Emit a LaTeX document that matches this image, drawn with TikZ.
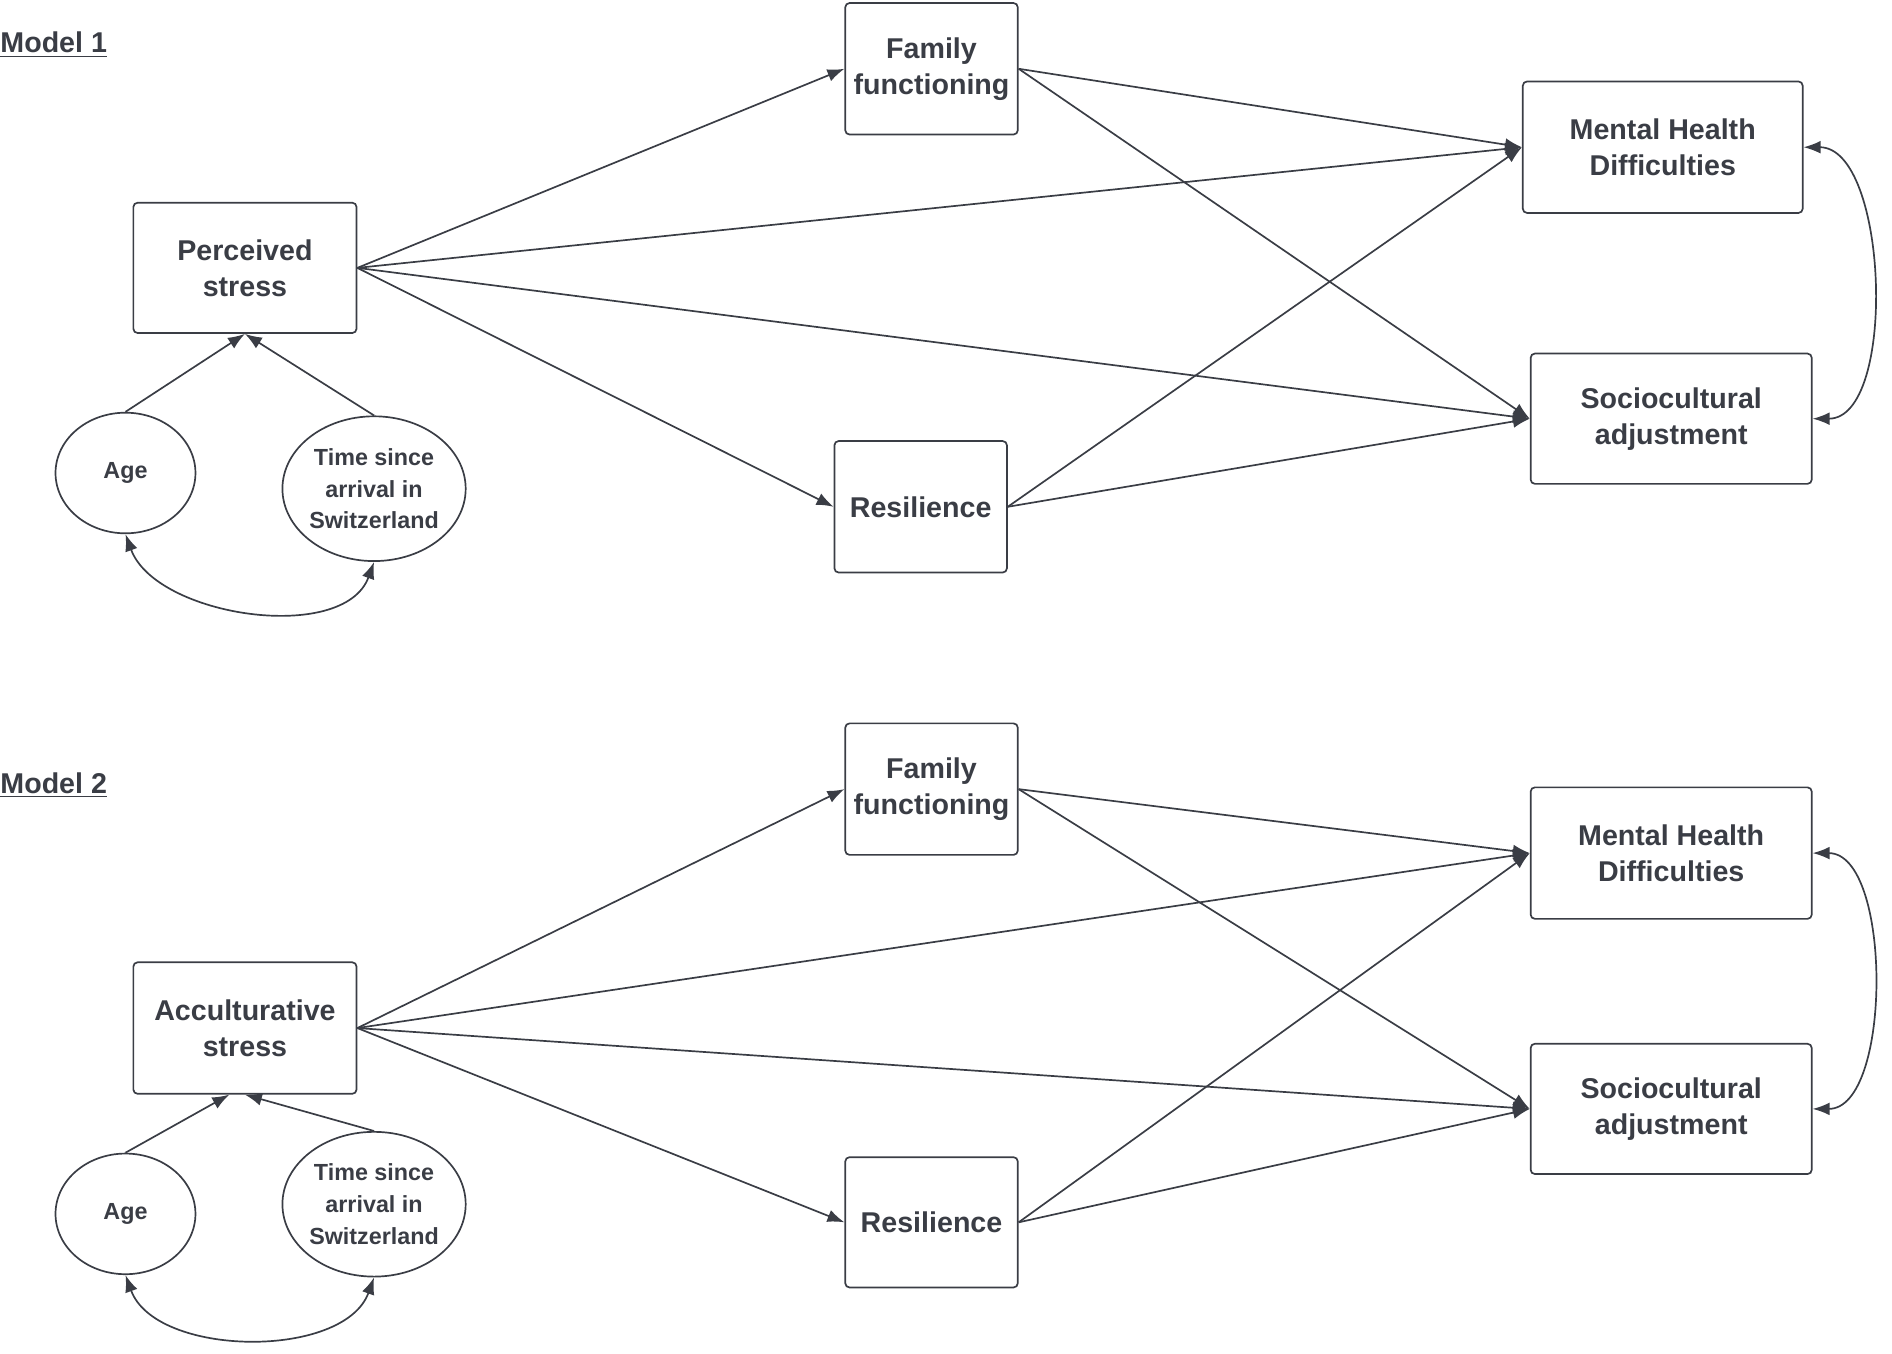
\documentclass[tikz,border=0pt]{standalone}
\usepackage{fontspec}
\setmainfont{Liberation Sans}
\usetikzlibrary{positioning,shapes.geometric,arrows.meta}
\definecolor{ink}{HTML}{3A3D45}
\tikzstyle{var} = [rectangle, rounded corners=2pt, draw=ink, thick, text=ink, align=center, font=\fontsize{13.5}{17}\selectfont\bfseries, inner sep=0pt]
\tikzstyle{covar} = [ellipse, draw=ink, thick, text=ink, align=center, font=\fontsize{11}{15}\selectfont\bfseries, inner sep=0pt]
\tikzstyle{title} = [anchor=west, text=ink, font=\fontsize{13.5}{17}\selectfont\bfseries, inner sep=0pt]
\tikzstyle{arrow} = [thick, draw=ink, -{Latex[length=8pt,width=6pt]}]
\tikzstyle{corr} = [thick, draw=ink, {Latex[length=8pt,width=6pt]}-{Latex[length=8pt,width=6pt]}]

\begin{document}
\begin{tikzpicture}[x=0.02cm, y=-0.02cm]
	\useasboundingbox (0,0) rectangle (1568,1122);

	% Model 1
	\node (m1) [title] at (0,37) {\underline{Model 1}};
	\node (fam1) [var, minimum width=2.86cm, minimum height=2.18cm] at (772,57) {Family\\functioning};
	\node (mh1) [var, minimum width=4.64cm, minimum height=2.18cm] at (1378,122) {Mental Health\\Difficulties};
	\node (ps1) [var, minimum width=3.7cm, minimum height=2.16cm] at (203,222) {Perceived\\stress};
	\node (sc1) [var, minimum width=4.66cm, minimum height=2.16cm] at (1385,347) {Sociocultural\\adjustment};
	\node (res1) [var, minimum width=2.86cm, minimum height=2.18cm] at (763,420) {Resilience};
	\node (age1) [covar, minimum width=2.32cm, minimum height=2cm] at (104,392) {Age};
	\node (time1) [covar, minimum width=2.52cm, minimum height=2.4cm] at (310,405) {Time since\\arrival in\\Switzerland};

	\draw [arrow] (age1.north) -- (ps1.south);
	\draw [arrow] (time1.north) -- (ps1.south);
	\draw [corr] (age1.south) to[out=-70, in=-110, looseness=0.9] (time1.south);
	\draw [arrow] (ps1.east) -- (fam1.west);
	\draw [arrow] (ps1.east) -- (mh1.west);
	\draw [arrow] (ps1.east) -- (sc1.west);
	\draw [arrow] (ps1.east) -- (res1.west);
	\draw [arrow] (fam1.east) -- (mh1.west);
	\draw [arrow] (fam1.east) -- (sc1.west);
	\draw [arrow] (res1.east) -- (mh1.west);
	\draw [arrow] (res1.east) -- (sc1.west);
	\draw [corr] (mh1.east) to[out=0, in=0, looseness=0.8] (sc1.east);

	% Model 2
	\node (m2) [title] at (0,651) {\underline{Model 2}};
	\node (fam2) [var, minimum width=2.86cm, minimum height=2.18cm] at (772,654) {Family\\functioning};
	\node (mh2) [var, minimum width=4.66cm, minimum height=2.18cm] at (1385,707) {Mental Health\\Difficulties};
	\node (as2) [var, minimum width=3.7cm, minimum height=2.18cm] at (203,852) {Acculturative\\stress};
	\node (sc2) [var, minimum width=4.66cm, minimum height=2.16cm] at (1385,919) {Sociocultural\\adjustment};
	\node (res2) [var, minimum width=2.86cm, minimum height=2.16cm] at (772,1013) {Resilience};
	\node (age2) [covar, minimum width=2.32cm, minimum height=2cm] at (104,1006) {Age};
	\node (time2) [covar, minimum width=2.52cm, minimum height=2.4cm] at (310,998) {Time since\\arrival in\\Switzerland};

	\draw [arrow] (age2.north) -- ([xshift=-0.26cm]as2.south);
	\draw [arrow] (time2.north) -- (as2.south);
	\draw [corr] (age2.south) to[out=-70, in=-110, looseness=0.9] (time2.south);
	\draw [arrow] (as2.east) -- (fam2.west);
	\draw [arrow] (as2.east) -- (mh2.west);
	\draw [arrow] (as2.east) -- (sc2.west);
	\draw [arrow] (as2.east) -- (res2.west);
	\draw [arrow] (fam2.east) -- (mh2.west);
	\draw [arrow] (fam2.east) -- (sc2.west);
	\draw [arrow] (res2.east) -- (mh2.west);
	\draw [arrow] (res2.east) -- (sc2.west);
	\draw [corr] (mh2.east) to[out=0, in=0, looseness=0.8] (sc2.east);
\end{tikzpicture}
\end{document}
